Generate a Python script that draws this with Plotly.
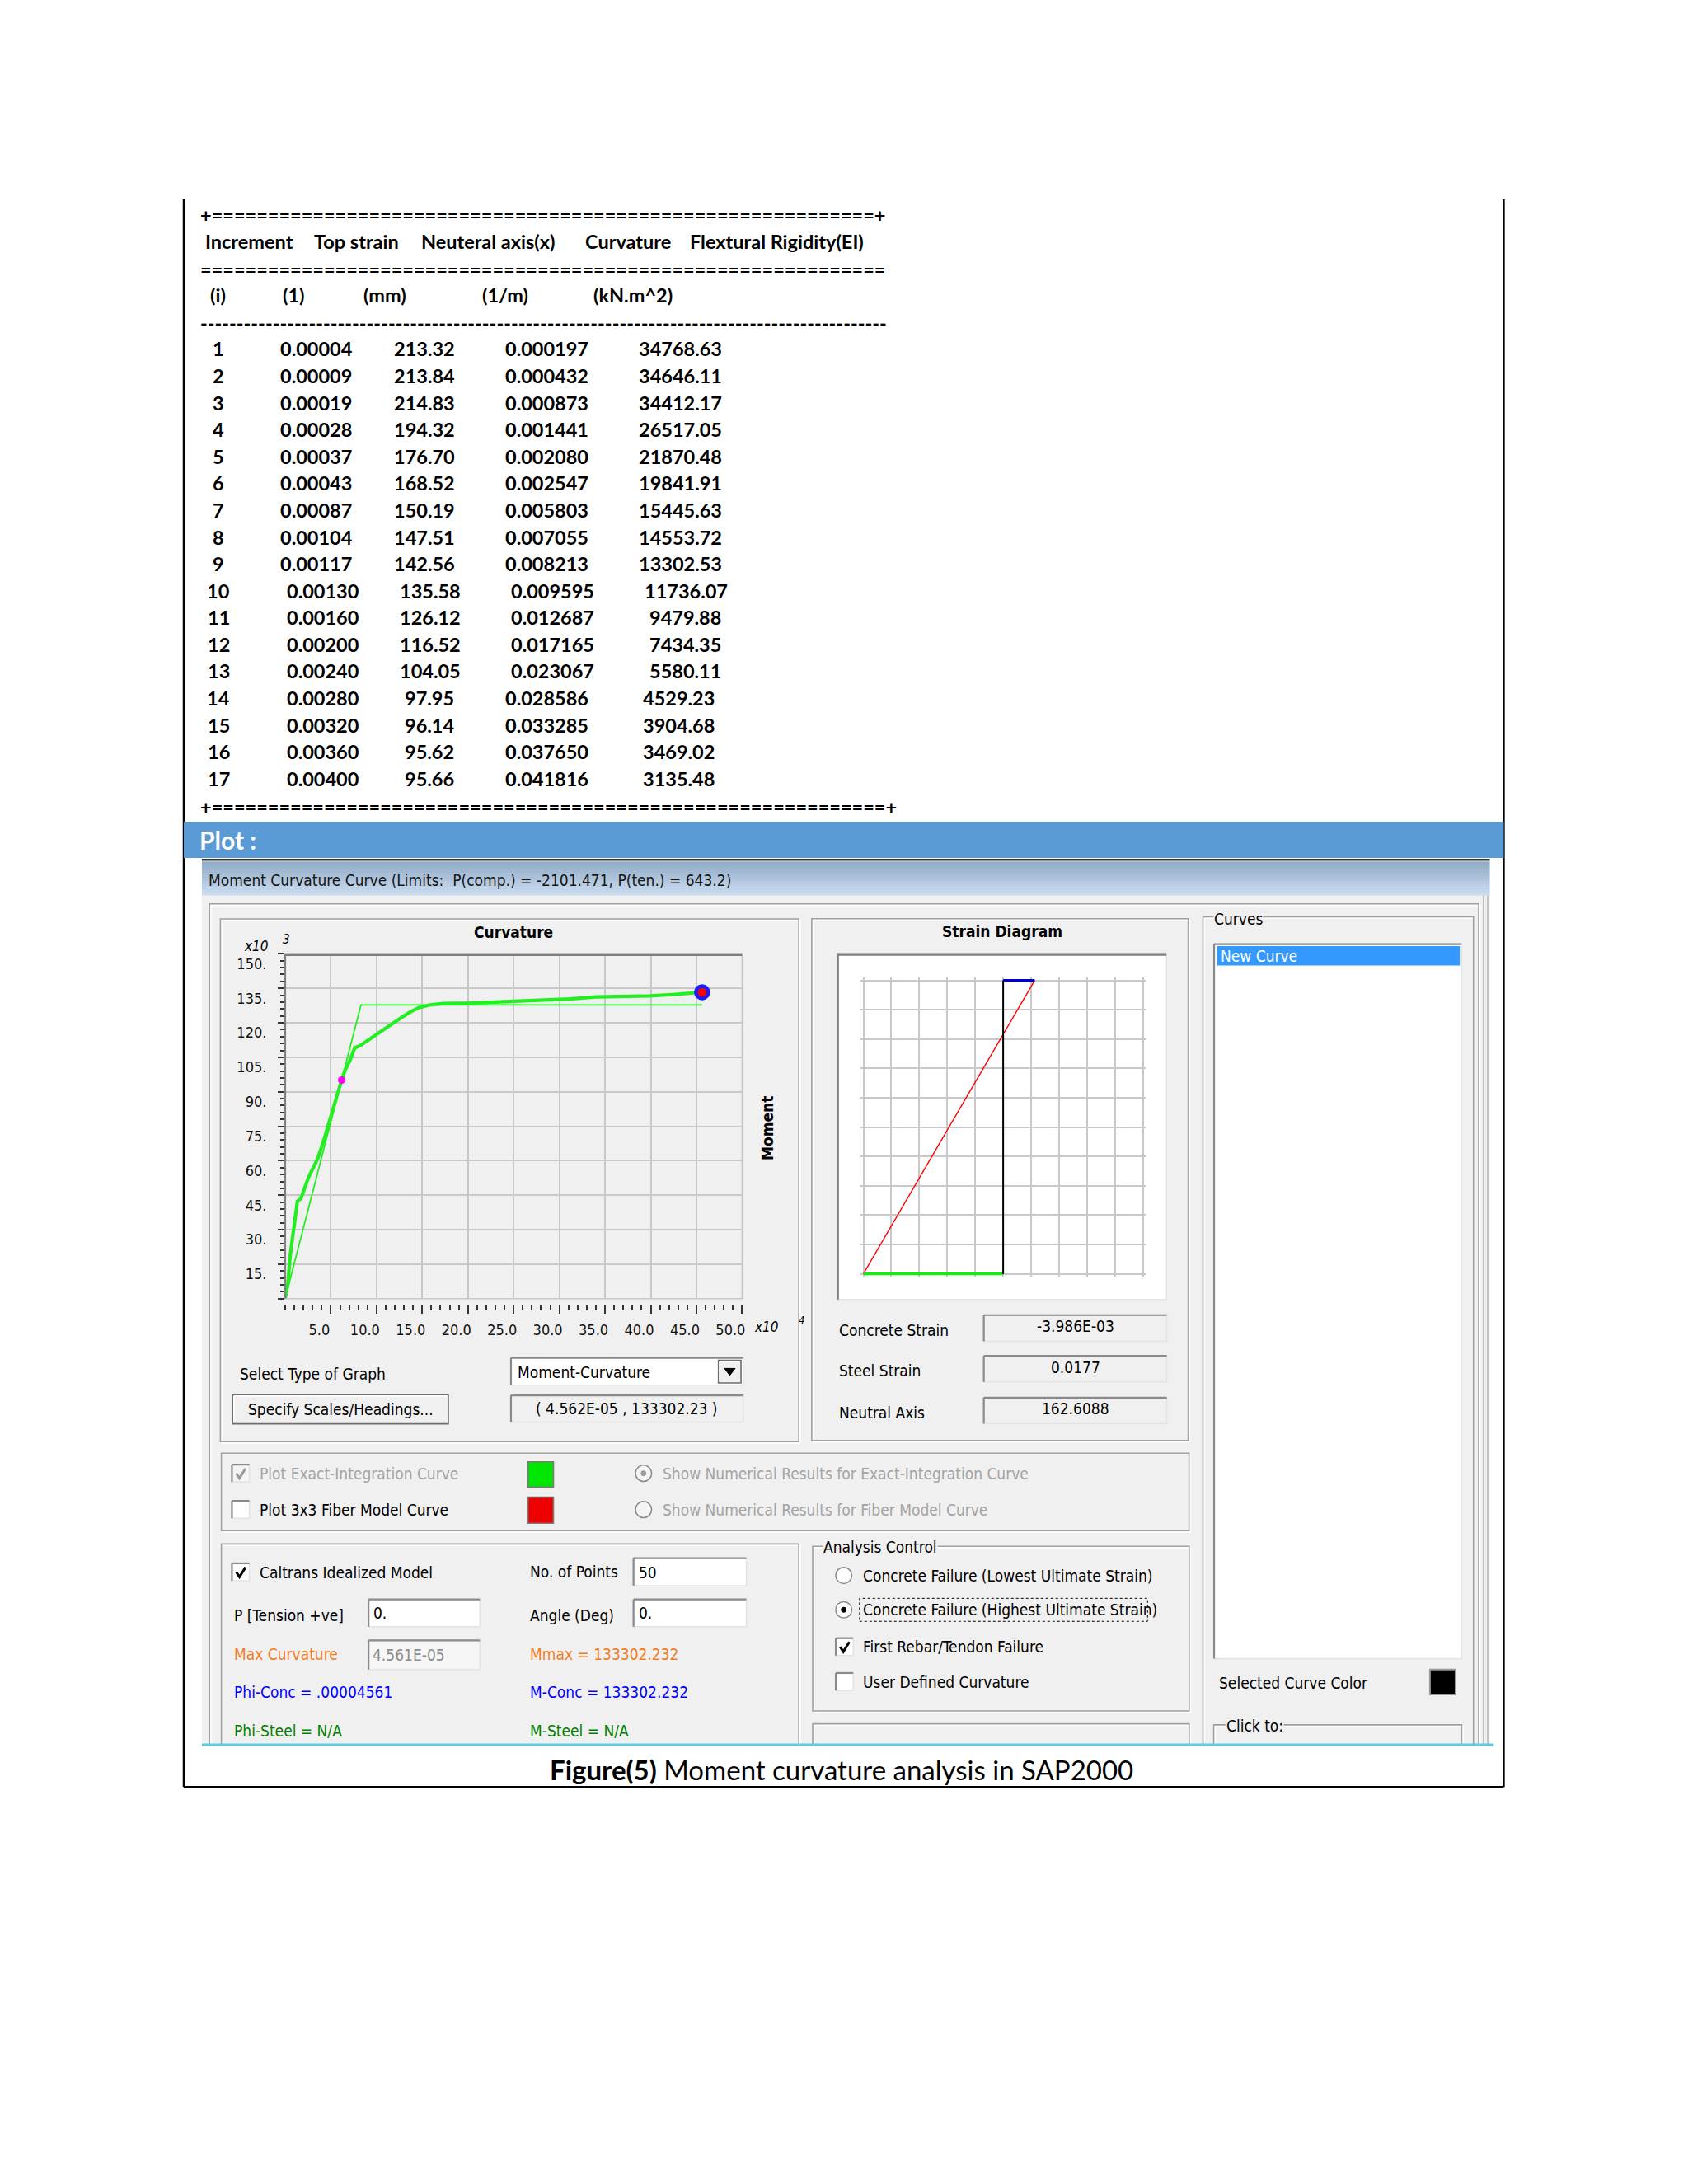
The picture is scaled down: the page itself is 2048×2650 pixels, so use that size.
import plotly.graph_objects as go

# ---------------- data ----------------
increments = [1, 2, 3, 4, 5, 6, 7, 8, 9, 10, 11, 12, 13, 14, 15, 16, 17]
top_strain = [0.00004, 0.00009, 0.00019, 0.00028, 0.00037, 0.00043, 0.00087, 0.00104, 0.00117,
              0.00130, 0.00160, 0.00200, 0.00240, 0.00280, 0.00320, 0.00360, 0.00400]
neutral_axis = [213.32, 213.84, 214.83, 194.32, 176.70, 168.52, 150.19, 147.51, 142.56,
                135.58, 126.12, 116.52, 104.05, 97.95, 96.14, 95.62, 95.66]
curvature = [0.000197, 0.000432, 0.000873, 0.001441, 0.002080, 0.002547, 0.005803, 0.007055, 0.008213,
             0.009595, 0.012687, 0.017165, 0.023067, 0.028586, 0.033285, 0.037650, 0.041816]
rigidity = [34768.63, 34646.11, 34412.17, 26517.05, 21870.48, 19841.91, 15445.63, 14553.72, 13302.53,
            11736.07, 9479.88, 7434.35, 5580.11, 4529.23, 3904.68, 3469.02, 3135.48]
table_headers = ["Increment", "Top strain", "Neuteral axis(x)", "Curvature", "Flextural Rigidity(EI)"]
table_units = ["(i)", "(1)", "(mm)", "(1/m)", "(kN.m^2)"]

# moment-curvature chart (curvature x10^-6, moment x10^3)
exact_curvature = [0.0, 0.30, 0.54, 0.84, 1.04, 1.19, 1.34, 1.73, 2.09, 2.54, 2.99, 3.58, 4.18,
                   4.78, 5.37, 5.97, 6.18, 6.57, 7.16, 7.61, 8.21, 8.96, 10.15, 11.34, 12.54,
                   13.73, 14.63, 15.82, 17.31, 20.17, 24.16, 28.15, 31.09, 34.03, 39.92, 42.44,
                   45.62]
exact_moment = [0.0, 6.4, 18.4, 27.4, 32.2, 39.4, 42.4, 43.6, 47.8, 52.6, 56.3, 61.1, 68.3,
                76.7, 85.1, 93.5, 95.1, 99.5, 104.3, 109.1, 110.1, 112.1, 115.4, 118.8, 121.8,
                124.8, 126.6, 127.8, 128.4, 128.6, 129.2, 129.9, 130.4, 131.3, 131.7, 132.3,
                133.3]
ideal_curvature = [0.0, 8.30, 45.62]
ideal_moment = [0.0, 127.8, 127.8]
yield_curvature = [6.18]
yield_moment = [95.1]
readout_curvature = 4.562e-05
readout_moment = 133302.23
curv_tick_values = [5, 10, 15, 20, 25, 30, 35, 40, 45, 50]
curv_tick_labels = ["5.0", "10.0", "15.0", "20.0", "25.0", "30.0", "35.0", "40.0", "45.0", "50.0"]
moment_tick_values = [0, 15, 30, 45, 60, 75, 90, 105, 120, 135, 150]
moment_tick_labels = ["", "15.", "30.", "45.", "60.", "75.", "90.", "105.", "120.", "135.", "150."]

# strain diagram
concrete_strain = -3.986e-03
steel_strain = 0.0177
neutral_axis_depth = 162.6088
section_levels = [0.0, 1.0]   # steel level, top fibre

# other panel values
n_points = 50
max_curvature = 4.561e-05
m_max = 133302.232
phi_conc = ".00004561"
limit_comp = -2101.471
limit_ten = 643.2

# ---------------- helpers (layout in a 1210-wide design grid) ----------------
W, H = 2048, 2650
K = W / 1210.0
OFF = 8  # page margin of the html body
GUI = "DejaVu Sans Condensed, Liberation Sans Narrow, Liberation Sans, sans-serif"
DOC = "Lato, Carlito, Noto Sans, sans-serif"
BODY = "#f0f0f0"
GRID = "#c8c8c8"

shapes = []
annotations = []


def fx(v):
    return (v * K - OFF) / W


def fy(v):
    return 1 - (v * K - OFF) / H


def box(x0, y0, x1, y1, fill=None, line=None, width=1.5, layer="below", dash=None):
    ln = dict(color=line, width=width) if line else dict(width=0)
    if dash:
        ln["dash"] = dash
    shapes.append(dict(type="rect", xref="paper", yref="paper", x0=fx(x0), x1=fx(x1),
                       y0=fy(y1), y1=fy(y0), fillcolor=fill or "rgba(0,0,0,0)",
                       line=ln, layer=layer))


def seg(x0, y0, x1, y1, color, width=1.5, layer="below"):
    shapes.append(dict(type="line", xref="paper", yref="paper", x0=fx(x0), x1=fx(x1),
                       y0=fy(y0), y1=fy(y1), line=dict(color=color, width=width), layer=layer))


def path(pts, color, width=2, fill=None, closed=False, layer="below"):
    d = "M " + " L ".join(f"{fx(a):.5f},{fy(b):.5f}" for a, b in pts)
    if closed:
        d += " Z"
    shapes.append(dict(type="path", xref="paper", yref="paper", path=d,
                       line=dict(color=color, width=width), fillcolor=fill or "rgba(0,0,0,0)",
                       layer=layer))


def circle(cx, cy, r, fill, line, width=1.3):
    shapes.append(dict(type="circle", xref="paper", yref="paper", x0=fx(cx - r), x1=fx(cx + r),
                       y0=fy(cy + r), y1=fy(cy - r), fillcolor=fill,
                       line=dict(color=line, width=width), layer="below"))


def T(x, y, s, size=19, color="#000000", family=GUI, anchor="left", bold=False,
      italic=False, bg=None, angle=0):
    if bold:
        s = f"<b>{s}</b>"
    if italic:
        s = f"<i>{s}</i>"
    a = dict(xref="paper", yref="paper", x=fx(x), y=fy(y), text=s, showarrow=False,
             xanchor=anchor, yanchor="middle", textangle=angle,
             font=dict(family=family, size=size, color=color))
    if bg:
        a["bgcolor"] = bg
        a["borderpad"] = 0
    annotations.append(a)


def groupbox(x0, y0, x1, y1, open_bottom=False):
    e = 1.0
    if open_bottom:
        path([(x0 + e, y1), (x0 + e, y0 + e), (x1 + e, y0 + e), (x1 + e, y1)], "#ffffff", 1.6)
        path([(x0, y1), (x0, y0), (x1, y0), (x1, y1)], "#a0a0a0", 1.6)
    else:
        box(x0 + e, y0 + e, x1 + e, y1 + e, line="#ffffff", width=1.6)
        box(x0, y0, x1, y1, line="#a0a0a0", width=1.6)


def sunken(x0, y0, x1, y1, fill="#ffffff"):
    box(x0, y0, x1, y1, fill=fill, line="#e3e3e3", width=1.5)
    seg(x0, y0, x1, y0, "#8a8a8a", 2.2)
    seg(x0, y0, x0, y1, "#8a8a8a", 2.2)


def raised(x0, y0, x1, y1):
    box(x0, y0, x1, y1, fill=BODY, line="#6e6e6e", width=1.6)
    seg(x0 + 0.8, y0 + 0.8, x1 - 1, y0 + 0.8, "#ffffff", 1.6)
    seg(x0 + 0.8, y0 + 0.8, x0 + 0.8, y1 - 1, "#ffffff", 1.6)


def checkbox(x0, cy, checked, disabled=False):
    s = 12.5
    y0 = cy - s / 2
    sunken(x0, y0, x0 + s, y0 + s, fill="#f4f4f4" if disabled else "#ffffff")
    if checked:
        c = "#9a9a9a" if disabled else "#000000"
        path([(x0 + 0.25 * s, y0 + 0.5 * s), (x0 + 0.43 * s, y0 + 0.78 * s),
              (x0 + 0.78 * s, y0 + 0.22 * s)], c, 3)


def radio(cx, cy, selected, disabled=False):
    circle(cx, cy, 5.8, "#f4f4f4" if disabled else "#ffffff", "#8a8a8a", 1.5)
    if selected:
        c = "#9a9a9a" if disabled else "#000000"
        circle(cx, cy, 1.8, c, c, 1)


# ---------------- document part ----------------
# page frame
seg(132, 143, 132, 1281, "#000000", 2.5)
seg(1080, 143, 1080, 1281, "#000000", 2.5)
seg(132, 1281, 1080, 1281, "#000000", 2.5)

TS = 23.5
T(142.9, 154, "+" + "=" * 59 + "+", TS, bold=True, family=DOC)
for x, s in zip([146.3, 224.3, 301.3, 419.0, 494.5], table_headers):
    T(x, 173.3, s, TS, bold=True, family=DOC)
T(142.9, 193, "=" * 61, TS, bold=True, family=DOC)
for x, s in zip([149.5, 202.0, 260.0, 345.3, 425.0], table_units):
    T(x, 211.7, s, TS, bold=True, family=DOC)
T(142.9, 231.4, "-" * 95, TS, bold=True, family=DOC)


def row_x(i):
    if i <= 9:
        return 200.2, 281.6, 361.6, 457.3
    if i <= 13:
        return 204.6, 286.0, 365.7, 461.7 if i == 10 else 465.0
    return 204.6, 289.4, 361.6, 460.7


for k, i in enumerate(increments):
    y = 250.1 + 19.26 * k
    c1, c2, c3, c4 = row_x(i)
    T(157, y, str(i), TS, bold=True, family=DOC, anchor="center")
    T(c1, y, f"{top_strain[k]:.5f}", TS, bold=True, family=DOC)
    T(c2, y, f"{neutral_axis[k]:.2f}", TS, bold=True, family=DOC)
    T(c3, y, f"{curvature[k]:.6f}", TS, bold=True, family=DOC)
    T(c4, y, f"{rigidity[k]:.2f}", TS, bold=True, family=DOC)
T(142.9, 578.6, "+" + "=" * 60 + "+", TS, bold=True, family=DOC)

# blue "Plot :" band
box(132, 589, 1080, 615, fill="#5b9bd5")
T(142, 602, "Plot :", 30, color="#ffffff", bold=True, family=DOC)

# ---------------- SAP2000 window ----------------
seg(145, 616.3, 1070, 616.3, "#2f2f2f", 2.5)
nb = 12
top_c, bot_c = (146, 172, 201), (202, 219, 239)
for b in range(nb):
    t = b / (nb - 1)
    col = "rgb({},{},{})".format(*[int(top_c[j] + (bot_c[j] - top_c[j]) * t) for j in range(3)])
    y0 = 617.5 + b * (642 - 617.5) / nb
    box(145, y0, 1070, y0 + (642 - 617.5) / nb + 0.3, fill=col)
T(148.3, 631, f"Moment Curvature Curve (Limits:  P(comp.) = {limit_comp}, P(ten.) = {limit_ten})",
  19, color="#151515")
box(145, 642, 1070, 1252, fill=BODY)
seg(1065.5, 642, 1065.5, 1252, "#b4b4b4", 1.5)
seg(1068.5, 642, 1068.5, 1252, "#b4b4b4", 1.5)

groupbox(150.5, 648, 1062, 1260, open_bottom=True)
groupbox(158.3, 658.8, 573.7, 1033.5)
groupbox(583.0, 658.6, 853.4, 1032.7)
groupbox(864.0, 657.3, 1058.3, 1260, open_bottom=True)
groupbox(159.0, 1041.8, 854.0, 1097.3)
groupbox(159.0, 1106.8, 573.7, 1260, open_bottom=True)
groupbox(583.7, 1108.5, 854.1, 1226.5)
groupbox(583.7, 1235.8, 854.1, 1260, open_bottom=True)
groupbox(871.7, 1236.5, 1049.8, 1260, open_bottom=True)

# curvature panel
T(369, 668, "Curvature", 19, bold=True, anchor="center")
T(174, 678.3, "x10", 17, italic=True)
T(205.6, 673.5, "3", 15, italic=True, anchor="center")
T(540.5, 951.2, "x10", 17, italic=True)
T(572.5, 946, "4", 13, italic=True)
T(551, 808.4, "Moment", 19, bold=True, anchor="center", angle=-90)
T(171.3, 985, "Select Type of Graph", 19)
sunken(367, 973.4, 533.8, 993)
raised(516, 975.2, 532.2, 991.4)
path([(520.3, 981), (528, 981), (524.15, 986)], "#000000", 1, fill="#000000", closed=True)
T(370.7, 983.5, "Moment-Curvature", 19)
raised(167.2, 1000, 322, 1020.7)
T(244.6, 1010.5, "Specify Scales/Headings...", 19, anchor="center")
sunken(367, 1000.3, 533.8, 1019.5, fill=BODY)
T(450.4, 1010, f"( {readout_curvature:.3E} , {readout_moment:.2f} )", 19, anchor="center")

# curvature plot frame (sunken look)
box(204.8, 683.8, 533, 931, line=GRID, width=1.6, layer="above")
seg(204.8, 684.4, 533, 684.4, "#7f7f7f", 3.2, layer="above")
seg(204.8, 683.8, 204.8, 931, "#7f7f7f", 2.2, layer="above")

# strain panel
T(719.6, 667.8, "Strain Diagram", 19, bold=True, anchor="center")
box(601.5, 683.4, 837.8, 931.6, fill="#ffffff", line="#e4e4e4", width=1.5)
seg(601.5, 684.2, 837.8, 684.2, "#7f7f7f", 3.2)
seg(601.9, 683.4, 601.9, 931.6, "#7f7f7f", 2.2)
for yy, lab, val in [(953.3, "Concrete Strain", f"{concrete_strain:.3E}"),
                     (982.5, "Steel Strain", f"{steel_strain}"),
                     (1012.4, "Neutral Axis", f"{neutral_axis_depth}")]:
    T(601.3, yy, lab, 19)
    sunken(706.6, yy - 10.5, 838, yy + 8.2, fill=BODY)
    T(772.8, yy - 2.5, val, 19, anchor="center")

# curves panel
T(871.5, 658.6, "Curves", 19, bg=BODY)
sunken(872, 676.8, 1049.8, 1189)
box(874.2, 678.2, 1048.5, 692.2, fill="#3399ff")
T(875.6, 685.4, "New Curve", 19, color="#ffffff")
T(874.3, 1206.2, "Selected Curve Color", 19)
box(1027, 1196.8, 1045.4, 1214.7, fill="#000000", line="#9a9a9a", width=2)
T(880.5, 1237, "Click to:", 19, bg=BODY)

# plot option rows
checkbox(166.6, 1056.2, True, disabled=True)
T(185.5, 1056.2, "Plot Exact-Integration Curve", 19, color="#a3a3a3")
box(379.2, 1048, 397.5, 1066, fill="#00e600", line="#7a7a7a", width=1.6)
radio(462.2, 1056.2, True, disabled=True)
T(474.8, 1056.2, "Show Numerical Results for Exact-Integration Curve", 19, color="#a3a3a3")
checkbox(166.6, 1082.2, False)
T(185.5, 1082.2, "Plot 3x3 Fiber Model Curve", 19)
box(379.2, 1073.3, 397.5, 1092, fill="#ee0000", line="#7a7a7a", width=1.6)
radio(462.2, 1082.2, False, disabled=True)
T(474.8, 1082.2, "Show Numerical Results for Fiber Model Curve", 19, color="#a3a3a3")

# idealized model panel
checkbox(166.6, 1127, True)
T(185.5, 1127, "Caltrans Idealized Model", 19)
T(379.2, 1126.5, "No. of Points", 19)
sunken(455, 1117, 536, 1136.7)
T(457.5, 1127, str(n_points), 19)
T(166.7, 1158, "P [Tension +ve]", 19)
sunken(264.7, 1146.6, 344.7, 1166.2)
T(267, 1156.5, "0.", 19)
T(379.2, 1158, "Angle (Deg)", 19)
sunken(455, 1146.6, 536, 1166.2)
T(457.5, 1156.5, "0.", 19)
T(166.7, 1185.6, "Max Curvature", 19, color="#f07d1e")
sunken(264.7, 1176, 344.7, 1196.8, fill="#f6f6f6")
T(266.5, 1186.4, f"{max_curvature:.3E}", 19, color="#8c8c8c")
T(379.2, 1185.6, f"Mmax = {m_max}", 19, color="#f07d1e")
T(166.7, 1213.1, f"Phi-Conc = {phi_conc}", 19, color="#0000ff")
T(379.2, 1213.1, f"M-Conc = {m_max}", 19, color="#0000ff")
T(166.7, 1240.7, "Phi-Steel = N/A", 19, color="#008000")
T(379.2, 1240.7, "M-Steel = N/A", 19, color="#008000")

# analysis control
T(590.5, 1109, "Analysis Control", 19, bg=BODY)
radio(606, 1129.4, False)
T(618.7, 1129.4, "Concrete Failure (Lowest Ultimate Strain)", 19)
radio(606, 1154, True)
box(617.3, 1145.8, 824.2, 1162.3, line="#000000", width=1, dash="dot")
T(618.7, 1154, "Concrete Failure (Highest Ultimate Strain)", 19)
checkbox(600.3, 1180.6, True)
T(618.7, 1180.6, "First Rebar/Tendon Failure", 19)
checkbox(600.3, 1205.6, False)
T(618.7, 1205.6, "User Defined Curvature", 19)

# screenshot cut + caption
box(143, 1251.5, 1076, 1279.5, fill="#ffffff")
seg(145, 1250.8, 1072.8, 1250.8, "#5ecbe6", 3.2)
T(604.5, 1268.5, "<b>Figure(5)</b> Moment curvature analysis in SAP2000", 33, family=DOC,
  anchor="center")

# ---------------- traces ----------------
fig = go.Figure()
fig.add_trace(go.Scatter(x=ideal_curvature, y=ideal_moment, mode="lines",
                         line=dict(color="#22ee22", width=1.8), xaxis="x", yaxis="y"))
fig.add_trace(go.Scatter(x=exact_curvature, y=exact_moment, mode="lines",
                         line=dict(color="#22ee22", width=4.2), xaxis="x", yaxis="y"))
fig.add_trace(go.Scatter(x=yield_curvature, y=yield_moment, mode="markers",
                         marker=dict(color="#ff00ff", size=9), xaxis="x", yaxis="y"))
fig.add_trace(go.Scatter(x=[readout_curvature * 1e6], y=[readout_moment / 1e3], mode="markers",
                         marker=dict(color="#ff0000", size=15, line=dict(color="#1a1aff", width=4.5)),
                         cliponaxis=False, xaxis="x", yaxis="y"))

sx = [-steel_strain, -concrete_strain]
fig.add_trace(go.Scatter(x=sx, y=section_levels, mode="lines",
                         line=dict(color="#ff0000", width=1.4), xaxis="x2", yaxis="y2"))
fig.add_trace(go.Scatter(x=[-steel_strain, 0], y=[section_levels[0]] * 2, mode="lines",
                         line=dict(color="#11ee11", width=3.2), xaxis="x2", yaxis="y2"))
fig.add_trace(go.Scatter(x=[0, -concrete_strain], y=[section_levels[1]] * 2, mode="lines",
                         line=dict(color="#0000cc", width=3.2), xaxis="x2", yaxis="y2"))
fig.add_trace(go.Scatter(x=[0, 0], y=section_levels, mode="lines",
                         line=dict(color="#000000", width=2), xaxis="x2", yaxis="y2"))

tick_font = dict(family=GUI, size=18, color="#111111")
pad = 0.01
gx0, gx1, gy0, gy1 = 620.1, 820.9, 702.8, 913.2
gw, gh = gx1 - gx0, gy1 - gy0

fig.update_layout(
    width=W, height=H, autosize=False,
    margin=dict(l=0, r=0, t=0, b=0),
    paper_bgcolor="#ffffff", plot_bgcolor="#ffffff",
    showlegend=False,
    xaxis=dict(domain=[fx(204.8), fx(533)], range=[0, 50], anchor="free", position=fy(935.4),
               showgrid=True, gridcolor=GRID, gridwidth=1.6, zeroline=False, showline=False,
               tickmode="array", tickvals=curv_tick_values, ticktext=curv_tick_labels,
               ticks="outside", ticklen=10, tickwidth=1.5, tickcolor="#333333",
               minor=dict(tickmode="linear", tick0=0, dtick=1, ticks="outside", ticklen=6,
                          tickwidth=1.5, tickcolor="#333333", showgrid=False),
               tickfont=tick_font, ticklabelshift=-14, ticklabelstandoff=4, fixedrange=True),
    yaxis=dict(domain=[fy(931), fy(683.8)], range=[0, 150], anchor="x",
               showgrid=True, gridcolor=GRID, gridwidth=1.6, zeroline=False, showline=False,
               tickmode="array", tickvals=moment_tick_values, ticktext=moment_tick_labels,
               ticks="outside", ticklen=8, tickwidth=1.5, tickcolor="#333333",
               minor=dict(tickmode="linear", tick0=0, dtick=3, ticks="outside", ticklen=5,
                          tickwidth=1.5, tickcolor="#333333", showgrid=False),
               tickfont=tick_font, ticklabelshift=12, ticklabelstandoff=10, fixedrange=True),
    xaxis2=dict(domain=[fx(gx0 - pad * gw), fx(gx1 + pad * gw)],
                range=[-steel_strain * (1 + 2 * pad), steel_strain * (1 + 2 * pad)],
                anchor="y2", tick0=0, dtick=steel_strain / 5, showgrid=True, gridcolor=GRID,
                gridwidth=1.5, zeroline=False, showline=False, showticklabels=False, ticks="",
                fixedrange=True),
    yaxis2=dict(domain=[fy(gy1 + pad * gh), fy(gy0 - pad * gh)], range=[-pad, 1 + pad],
                anchor="x2", tick0=0, dtick=0.1, showgrid=True, gridcolor=GRID, gridwidth=1.5,
                zeroline=False, showline=False, showticklabels=False, ticks="", fixedrange=True),
    shapes=shapes,
    annotations=annotations,
)

fig.write_html("out.html")
